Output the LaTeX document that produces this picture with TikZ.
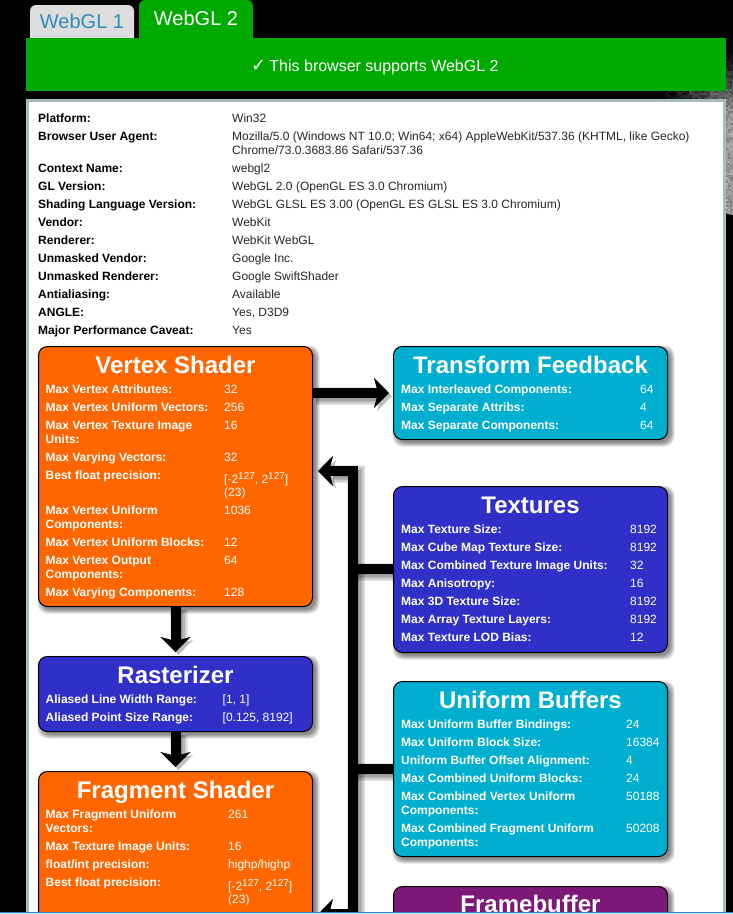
\documentclass[tikz,border=0pt]{standalone}
\usepackage{fontspec}
\setmainfont{Liberation Sans}
\newfontfamily\symfont{DejaVu Sans}
\usetikzlibrary{arrows.meta,calc}
\definecolor{tabgray}{HTML}{DDDDDD}
\definecolor{tabblue}{HTML}{2E8CB8}
\definecolor{okgreen}{HTML}{00AA00}
\definecolor{panelborder}{HTML}{A3BDBD}
\definecolor{vsorange}{HTML}{FF6600}
\definecolor{rblue}{HTML}{3030C8}
\definecolor{tfcyan}{HTML}{00AFD0}
\definecolor{fbpurple}{HTML}{7B1878}
\definecolor{barblue}{HTML}{1E88D8}
\tikzset{
  x=1pt,y=-1pt,
  pipeline/.style={draw=black,line width=1pt,rounded corners=9pt,inner sep=0pt,outer sep=0pt},
  conn/.style={line width=10pt,draw=black,miter limit=10},
  arrowed/.style={conn,-{Stealth[length=15pt,width=30pt,inset=4pt]}},
  infolabel/.style={anchor=base west,inner sep=0pt,font=\fontsize{12}{14}\selectfont\bfseries,text=black},
  infovalue/.style={anchor=base west,inner sep=0pt,font=\fontsize{12}{14}\selectfont,text=black!85,align=left},
  boxlabel/.style={anchor=base west,inner sep=0pt,font=\fontsize{12}{14}\selectfont\bfseries,text=white,align=left},
  boxlabeltwo/.style={boxlabel,anchor=north west},
  boxvalue/.style={anchor=base west,inner sep=0pt,font=\fontsize{12}{14}\selectfont,text=white,align=left},
  boxtitle/.style={anchor=base,inner sep=0pt,font=\fontsize{24}{26}\selectfont\bfseries,text=white},
}
\newcommand{\softshadow}[4]{%
  \foreach \g in {8,6,4,2,0}{%
    \fill[black,opacity=.11,rounded corners=10pt] (#1+3-\g/2,#2+3-\g/2) rectangle (#3+3+\g/2,#4+3+\g/2);
  }}
\newcommand{\pbox}[6]{%
  \softshadow{#2}{#3}{#4}{#5}
  \node[pipeline,fill=#6,anchor=north west,minimum width=#4pt-#2pt,minimum height=#5pt-#3pt] (#1) at (#2,#3) {};
}
\newcommand{\irow}[3]{\node[infolabel] at (38,#1+4) {#2}; \node[infovalue] at (232,#1+4) {#3};}
\newcommand{\brow}[5]{\node[boxlabel] at (#1,#3+4) {#4}; \node[boxvalue] at (#2,#3+4) {#5};}
\newcommand{\btwo}[5]{\node[boxlabeltwo] at (#1,#3-4) {#4}; \node[boxvalue] at (#2,#3+4) {#5};}
\newcommand{\sptwo}{\raisebox{4pt}{\fontsize{10}{10}\selectfont 127}}
\newcommand{\bfloat}[3]{\node[boxlabel] at (45.5,#1+4) {Best float precision:};
  \node[boxvalue] at (#2,#1+8) {[-2\sptwo, 2\sptwo]};
  \node[boxvalue] at (#2,#1+21) {(23)};}
\newcommand{\barshadow}[1]{%
  \foreach \w in {18,15,12,9,6}{\draw[black,opacity=.10,line width=\w pt,line cap=butt,shift={(3,3)}] #1;}}
\begin{document}
\begin{tikzpicture}
\useasboundingbox (0,0) rectangle (733,914);
\fill[black] (0,0) rectangle (733,914);
% moon texture
\pgfmathsetseed{11}
\foreach \yy in {45,47,...,213}{
  \foreach \xx in {726,728,730,732}{
    \pgfmathsetmacro\gv{max(0,min(85,min(60,max(0,(\yy-50)*0.9))+(rnd*20-10)*min(1,(\yy-45)/40)))}
    \fill[white!\gv!black] (\xx,\yy) rectangle (\xx+2.2,\yy+2.2);
  }
}
\foreach \yy in {91,93,95,97}{
  \foreach \xx in {650,653,...,725}{
    \pgfmathsetmacro\gv{max(0,min(60,(\xx-665)*0.7+rnd*18-9))}
    \fill[white!\gv!black] (\xx,\yy) rectangle (\xx+3.2,\yy+2.2);
  }
}
\fill[black] (726,213.5) -- (733,215.5) -- (733,230) -- (726,230) -- cycle;
% tabs (their lower ends lie under the banner)
\fill[tabgray,rounded corners=6pt] (30,55) -- (30,5) -- (134,5) -- (134,55) -- cycle;
\fill[okgreen,rounded corners=6pt] (139,55) -- (139,0) -- (253,0) -- (253,55) -- cycle;
\node[anchor=base,inner sep=0pt,font=\fontsize{20}{24}\selectfont,text=tabblue] (tab1) at (82,28) {WebGL 1};
\node[anchor=base,inner sep=0pt,font=\fontsize{20}{24}\selectfont,text=white] (tab2) at (196,25) {WebGL 2};
% banner
\fill[okgreen] (26,38) rectangle (726,91);
\node[anchor=base,inner sep=0pt,font=\fontsize{16}{20}\selectfont,text=white] (banner) at (375.5,71) {\makebox[12.6pt][c]{\symfont\fontsize{18}{20}\selectfont ✓} This browser supports WebGL 2};
% panel
\fill[panelborder] (26,99) rectangle (726,920);
\fill[white] (29,102) rectangle (723,920);
% info
\irow{118}{Platform:}{Win32}
\node[infolabel] at (38,140) {Browser User Agent:};
\node[infovalue] at (232,140) {Mozilla/5.0 (Windows NT 10.0; Win64; x64) AppleWebKit/537.36 (KHTML, like Gecko)};
\node[infovalue] at (232,154) {Chrome/73.0.3683.86 Safari/537.36};
\irow{168}{Context Name:}{webgl2}
\irow{186}{GL Version:}{WebGL 2.0 (OpenGL ES 3.0 Chromium)}
\irow{204}{Shading Language Version:}{WebGL GLSL ES 3.00 (OpenGL ES GLSL ES 3.0 Chromium)}
\irow{222}{Vendor:}{WebKit}
\irow{240}{Renderer:}{WebKit WebGL}
\irow{258}{Unmasked Vendor:}{Google Inc.}
\irow{276}{Unmasked Renderer:}{Google SwiftShader}
\irow{294}{Antialiasing:}{Available}
\irow{312}{ANGLE:}{Yes, D3D9}
\irow{330}{Major Performance Caveat:}{Yes}
% connector shadows
\barshadow{(313,393) -- (376,393)}
\barshadow{(353,925) -- (353,471) -- (330,471)}
\barshadow{(353,569) -- (393,569)}
\barshadow{(353,769) -- (393,769)}
\barshadow{(175.5,607) -- (175.5,640)}
\barshadow{(175.5,732) -- (175.5,755)}
\fill[black,opacity=.25,shift={(3,3)}] (389,393) -- (374,378) -- (378,393) -- (374,408) -- cycle;
\fill[black,opacity=.25,shift={(3,3)}] (318,471) -- (333,457) -- (329,471) -- (333,485) -- cycle;
\fill[black,opacity=.25,shift={(3,3)}] (175.5,652) -- (161,637) -- (175.5,641) -- (190,637) -- cycle;
\fill[black,opacity=.25,shift={(3,3)}] (175.5,767) -- (161,752) -- (175.5,756) -- (190,752) -- cycle;
% boxes
\pbox{vs}{38.5}{346.5}{312.5}{606.5}{vsorange}
\pbox{tf}{393.5}{346.5}{667.5}{439.5}{tfcyan}
\pbox{tx}{393.5}{486.5}{667.5}{652.5}{rblue}
\pbox{ra}{38.5}{656.5}{312.5}{731.5}{rblue}
\pbox{ub}{393.5}{681.5}{667.5}{856.5}{tfcyan}
\pbox{fs}{38.5}{771.5}{312.5}{960}{vsorange}
\pbox{fb}{393.5}{886.5}{667.5}{960}{fbpurple}
% connectors
\coordinate (tfin) at (389,393);
\coordinate (vsin) at (318,471);
\coordinate (fsin) at (318,914);
\coordinate (bustop) at (353,471);
\coordinate (busbottom) at (353,914);
\coordinate (busfoot) at (353,925);
\coordinate (txjoin) at (353,569);
\coordinate (ubjoin) at (353,769);
\coordinate (raarrow) at (175.5,652);
\coordinate (fsarrow) at (175.5,767);
\draw[arrowed] (vs.east|-tfin) -- (tfin);
\draw[arrowed] (busfoot) -- (bustop) -- (vsin);
\draw[arrowed] (busbottom) -- (fsin);
\draw[conn] (tx.west|-txjoin) -- (txjoin);
\draw[conn] (ub.west|-ubjoin) -- (ubjoin);
\draw[arrowed] (raarrow|-vs.south) -- (raarrow);
\draw[arrowed] (fsarrow|-ra.south) -- (fsarrow);
% vertex shader
\node[boxtitle] at (175.5,373) {Vertex Shader};
\brow{45.5}{224}{389}{Max Vertex Attributes:}{32}
\brow{45.5}{224}{407}{Max Vertex Uniform Vectors:}{256}
\btwo{45.5}{224}{425}{Max Vertex Texture Image\\Units:}{16}
\brow{45.5}{224}{457}{Max Varying Vectors:}{32}
\bfloat{475}{224}{}
\btwo{45.5}{224}{510}{Max Vertex Uniform\\Components:}{1036}
\brow{45.5}{224}{542}{Max Vertex Uniform Blocks:}{12}
\btwo{45.5}{224}{560}{Max Vertex Output\\Components:}{64}
\brow{45.5}{224}{592}{Max Varying Components:}{128}
% transform feedback
\node[boxtitle] at (530.5,373) {Transform Feedback};
\brow{401}{640}{389}{Max Interleaved Components:}{64}
\brow{401}{640}{407}{Max Separate Attribs:}{4}
\brow{401}{640}{425}{Max Separate Components:}{64}
% textures
\node[boxtitle] at (530.5,513) {Textures};
\brow{401}{630}{529}{Max Texture Size:}{8192}
\brow{401}{630}{547}{Max Cube Map Texture Size:}{8192}
\brow{401}{630}{565}{Max Combined Texture Image Units:}{32}
\brow{401}{630}{583}{Max Anisotropy:}{16}
\brow{401}{630}{601}{Max 3D Texture Size:}{8192}
\brow{401}{630}{619}{Max Array Texture Layers:}{8192}
\brow{401}{630}{637}{Max Texture LOD Bias:}{12}
% rasterizer
\node[boxtitle] at (175.5,683) {Rasterizer};
\brow{45.5}{222.5}{699}{Aliased Line Width Range:}{[1, 1]}
\brow{45.5}{222.5}{717}{Aliased Point Size Range:}{[0.125, 8192]}
% uniform buffers
\node[boxtitle] at (530.5,708) {Uniform Buffers};
\brow{401}{626}{724}{Max Uniform Buffer Bindings:}{24}
\brow{401}{626}{742}{Max Uniform Block Size:}{16384}
\brow{401}{626}{760}{Uniform Buffer Offset Alignment:}{4}
\brow{401}{626}{778}{Max Combined Uniform Blocks:}{24}
\btwo{401}{626}{796}{Max Combined Vertex Uniform\\Components:}{50188}
\btwo{401}{626}{828}{Max Combined Fragment Uniform\\Components:}{50208}
% fragment shader
\node[boxtitle] at (175.5,798) {Fragment Shader};
\btwo{45.5}{228}{814}{Max Fragment Uniform\\Vectors:}{261}
\brow{45.5}{228}{846}{Max Texture Image Units:}{16}
\brow{45.5}{228}{864}{float/int precision:}{highp/highp}
\bfloat{882}{228}{}
% framebuffer
\node[boxtitle] at (530.5,912.5) {Framebuffer};
% bottom bar
\fill[barblue] (0,912) rectangle (733,913.2);
\fill[black!6] (0,913.2) rectangle (733,914);
\end{tikzpicture}
\end{document}
